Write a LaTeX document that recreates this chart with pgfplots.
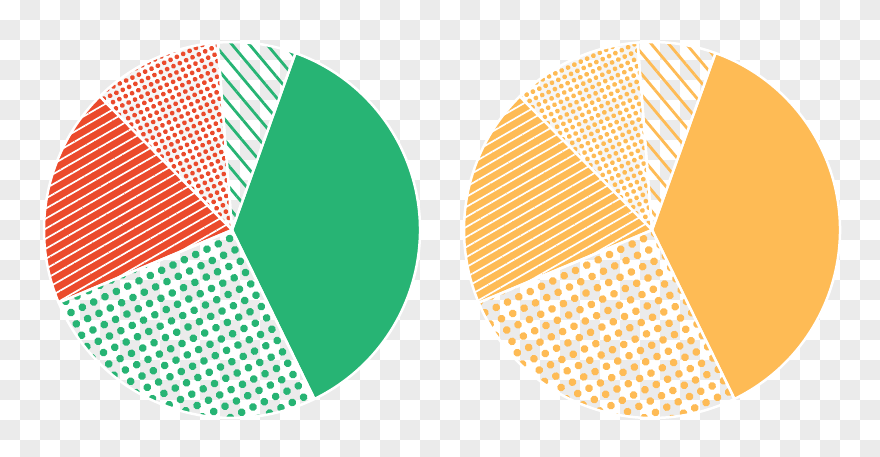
\documentclass[border=0pt]{standalone}
\usepackage{pgfplots}
\pgfplotsset{compat=1.18}
\usetikzlibrary{patterns.meta}

\definecolor{pieGreen}{RGB}{39,180,116}
\definecolor{pieRed}{RGB}{235,74,44}
\definecolor{pieOrange}{RGB}{254,187,85}
\definecolor{checkGray}{RGB}{235,235,235}

\tikzset{
  slice/.style={draw=white, line width=2.5pt, line join=round},
  solid/.style={slice, fill=#1},
  wide stripes/.style={slice, pattern={Lines[angle=-50, distance=13.4pt, line width=2.8pt]}, pattern color=#1},
  fine stripes/.style={slice, preaction={fill=#1}, pattern={Lines[angle=30, distance=8.7pt, line width=1.7pt]}, pattern color=white},
  big dots/.style={slice, pattern={Dots[angle=25, distance=12.5pt, radius=3.9pt]}, pattern color=#1},
  small dots/.style={slice, preaction={fill=white, fill opacity=0.55}, pattern={Dots[angle=25, distance=7pt, radius=2.4pt]}, pattern color=#1},
}

% one slice per call: centre x, centre y, share in percent, style
\newcommand\pieslice[4]{%
  \pgfmathsetmacro\aEnd{\aStart+3.6*#3}%
  \edef\doit{\noexpand\path[#4] (axis cs:#1,#2) -- ++(\aStart:188pt)
    arc[start angle=\aStart, end angle=\aEnd, radius=188pt] -- cycle;}%
  \doit
  \global\let\aStart\aEnd}

\begin{document}
\begin{tikzpicture}
\useasboundingbox (0,0) rectangle (880pt,456pt);
% transparent-background checkerboard
\begin{scope}[x=1pt, y=1pt]
  \clip (0,0) rectangle (880,456);
  \fill[white] (0,0) rectangle (880,456);
  \foreach \j in {0,...,22}{
    \pgfmathtruncatemacro\s{mod(\j+1,2)}
    \pgfmathtruncatemacro\t{\s+2}
    \foreach \i in {\s,\t,...,43}{
      \fill[checkGray] (20*\i, 436-20*\j) rectangle ++(20,20);
    }
  }
\end{scope}

\begin{axis}[
  at={(0,0)}, anchor=origin,
  x=1pt, y=1pt,
  xmin=0, xmax=880, ymin=0, ymax=456,
  hide axis, clip=false,
]
% left pie
\gdef\aStart{-64}
\pieslice{232}{226}{37.3}{solid=pieGreen}
\pieslice{232}{226}{6.7}{wide stripes=pieGreen}
\pieslice{232}{226}{11.2}{small dots=pieRed}
\pieslice{232}{226}{18.9}{fine stripes=pieRed}
\pieslice{232}{226}{25.9}{big dots=pieGreen}
% right pie
\gdef\aStart{-64}
\pieslice{652}{226}{37.3}{solid=pieOrange}
\pieslice{652}{226}{6.7}{wide stripes=pieOrange}
\pieslice{652}{226}{11.2}{small dots=pieOrange}
\pieslice{652}{226}{18.9}{fine stripes=pieOrange}
\pieslice{652}{226}{25.9}{big dots=pieOrange}
\end{axis}
\end{tikzpicture}
\end{document}
